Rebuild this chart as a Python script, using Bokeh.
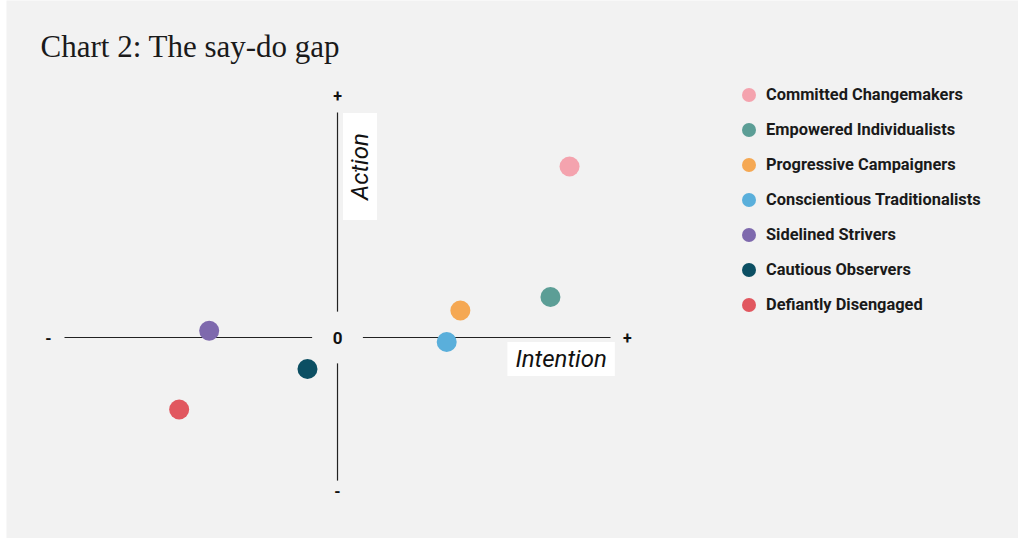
import math
from bokeh.plotting import figure
from bokeh.models import ColumnDataSource, Label, Legend, LegendItem
from bokeh.core.properties import value
from bokeh.embed import file_html
from bokeh.resources import INLINE

# ---- data ----
segments = ["Committed Changemakers", "Empowered Individualists", "Progressive Campaigners",
            "Conscientious Traditionalists", "Sidelined Strivers", "Cautious Observers",
            "Defiantly Disengaged"]
intention = [0.85, 0.78, 0.45, 0.40, -0.47, -0.11, -0.58]
action = [0.76, 0.18, 0.12, -0.02, 0.03, -0.14, -0.32]
colors = ["#f4a3ae", "#5c9e96", "#f5a853", "#5aafdb", "#7e69ad", "#0c4f63", "#e1575f"]

tick_text = ["+", "-", "-", "+", "0"]
title_text = "Chart 2: The say-do gap"
x_label = "Intention"
y_label = "Action"

# ---- layout ----
W, H = 1018, 538
LEFT_PAD = 6
X_MIN, X_MAX = -1.0, 1.0
Y_MIN, Y_MAX = -0.636, 1.0
GAP_X, GAP_Y = 0.093, 0.115
BG = "#f2f2f2"

p = figure(width=W, height=H, output_backend="svg", toolbar_location=None,
           x_axis_type=None, y_axis_type=None,
           x_range=(-1.2125, 2.4945), y_range=(-0.8933, 1.4978),
           min_border=0, min_border_left=LEFT_PAD, outline_line_color=None,
           background_fill_color=BG, border_fill_color="white")
p.grid.visible = False

# axis lines (with gap around the origin label)
p.segment(x0=[X_MIN, GAP_X, 0, 0], y0=[0, 0, GAP_Y, -GAP_Y],
          x1=[-GAP_X, X_MAX, 0, 0], y1=[0, 0, Y_MAX, Y_MIN],
          line_color="#222222", line_width=1.2)

# axis end marks
tick_src = ColumnDataSource(dict(
    x=[0, 0, X_MIN - 0.059, X_MAX + 0.062, 0],
    y=[Y_MAX + 0.075, Y_MIN - 0.048, 0, 0, 0],
    t=tick_text,
    s=["16px", "16px", "16px", "16px", "17px"]))
p.text(x="x", y="y", text="t", source=tick_src, text_align="center",
       text_baseline="middle", text_font=value("Roboto"), text_font_style="bold",
       text_font_size="s", text_color="#111111")

# axis titles with white boxes
p.add_layout(Label(x=0.819, y=-0.0956, text=x_label, text_align="center",
                   text_baseline="middle", text_font="Roboto", text_font_style="italic",
                   text_font_size="24px", text_color="#111111",
                   background_fill_color="white",
                   padding=dict(left=8, right=8, top=3, bottom=3)))
p.add_layout(Label(x=0.0824, y=0.76, text=y_label, angle=math.pi / 2,
                   text_align="center", text_baseline="middle", text_font="Roboto",
                   text_font_style="italic", text_font_size="24px", text_color="#111111",
                   background_fill_color="white",
                   padding=dict(left=20, right=20, top=3, bottom=3)))

# points
src = ColumnDataSource(dict(x=intention, y=action, c=colors, name=segments))
r = p.scatter(x="x", y="y", source=src, size=20, fill_color="c", line_color=None)

# title
p.add_layout(Label(x=-1.0879, y=1.2933, text=title_text,
                   text_font="Liberation Serif", text_font_size="31px",
                   text_color="#1a1a1a", text_baseline="alphabetic"))

# legend
items = [LegendItem(label=s, renderers=[r], index=i) for i, s in enumerate(segments)]
legend = Legend(items=items, location=(731 - LEFT_PAD, H - 77 - 245), orientation="vertical",
                glyph_width=35, glyph_height=35, label_height=35, spacing=0,
                label_standoff=0, padding=0, margin=0,
                background_fill_alpha=0, border_line_color=None,
                label_text_font="Roboto", label_text_font_style="bold",
                label_text_font_size="16.4px", label_text_color="#1a1a1a")
p.add_layout(legend)

open("out.html", "w").write(file_html(p, INLINE))
